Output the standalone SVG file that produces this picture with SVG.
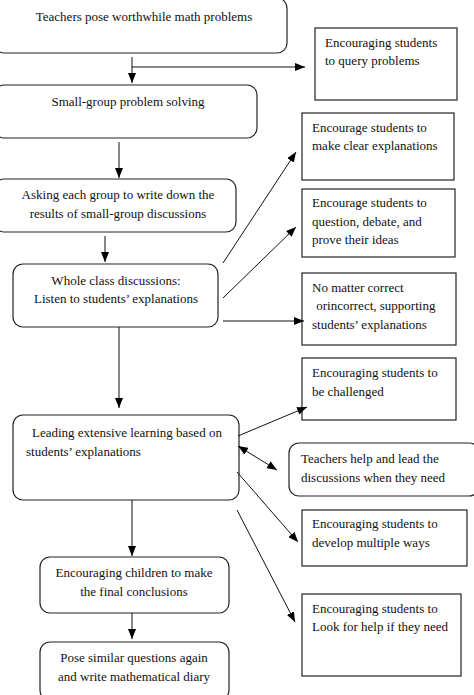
<svg xmlns="http://www.w3.org/2000/svg" width="474" height="695" viewBox="0 0 474 695">
<defs>
<marker id="ah" viewBox="0 0 10 8" refX="10" refY="4" markerWidth="10" markerHeight="8" markerUnits="userSpaceOnUse" orient="auto-start-reverse">
<path d="M0,0 L10,4 L0,8 Z" fill="#000"/>
</marker>
<style>
.box{fill:#fff;stroke:#222;stroke-width:1.2}
.t{font-family:"Liberation Serif","Times New Roman",serif;font-size:13px;fill:#111}
.c{text-anchor:middle}
.ln{stroke:#111;stroke-width:1;fill:none;marker-end:url(#ah)}
</style>
</defs>
<rect width="474" height="695" fill="#fff"/>
<g id="n1"><rect class="box" x="-6" y="-2" width="293" height="55" rx="10"/><text class="t c" x="144" y="21">Teachers pose worthwhile math problems</text></g>
<g id="n2"><rect class="box" x="315" y="28" width="142" height="72"/><text class="t" x="325" y="47">Encouraging students</text><text class="t" x="325" y="65">to query problems</text></g>
<g id="n3"><rect class="box" x="-6" y="85" width="263" height="53" rx="10"/><text class="t c" x="128" y="106">Small-group problem solving</text></g>
<g id="n4"><rect class="box" x="302" y="113" width="152" height="67"/><text class="t" x="312" y="132">Encourage students to</text><text class="t" x="312" y="150">make clear explanations</text></g>
<g id="n5"><rect class="box" x="-6" y="179" width="242" height="53" rx="10"/><text class="t c" x="118" y="199">Asking each group to write down the</text><text class="t c" x="118" y="218">results of small-group discussions</text></g>
<g id="n6"><rect class="box" x="302" y="189" width="153" height="68"/><text class="t" x="312" y="207">Encourage students to</text><text class="t" x="312" y="226">question, debate, and</text><text class="t" x="312" y="244">prove their ideas</text></g>
<g id="n7"><rect class="box" x="13" y="264" width="205" height="63" rx="10"/><text class="t c" x="116" y="285">Whole class discussions:</text><text class="t c" x="116" y="303">Listen to students’ explanations</text></g>
<g id="n8"><rect class="box" x="302" y="273" width="154" height="72"/><text class="t" x="312" y="292">No matter correct</text><text class="t" x="313" y="310" xml:space="preserve"> orincorrect, supporting</text><text class="t" x="312" y="329">students’ explanations</text></g>
<g id="n9"><rect class="box" x="302" y="358" width="154" height="62"/><text class="t" x="312" y="377">Encouraging students to</text><text class="t" x="312" y="396">be challenged</text></g>
<g id="n10"><rect class="box" x="13" y="415" width="226" height="85" rx="10"/><text class="t" x="32" y="437">Leading extensive learning based on</text><text class="t" x="26" y="456">students’ explanations</text></g>
<g id="n11"><rect class="box" x="289" y="443" width="190" height="53" rx="10"/><text class="t" x="301" y="463">Teachers help and lead the</text><text class="t" x="301" y="482">discussions when they need</text></g>
<g id="n12"><rect class="box" x="302" y="510" width="165" height="56"/><text class="t" x="312" y="528">Encouraging students to</text><text class="t" x="312" y="547">develop multiple ways</text></g>
<g id="n13"><rect class="box" x="40" y="557" width="189" height="56" rx="10"/><text class="t c" x="134" y="577">Encouraging children to make</text><text class="t c" x="134" y="596">the final conclusions</text></g>
<g id="n14"><rect class="box" x="302" y="594" width="159" height="82"/><text class="t" x="312" y="613">Encouraging students to</text><text class="t" x="312" y="631">Look for help if they need</text></g>
<g id="n15"><rect class="box" x="40" y="642" width="189" height="58" rx="10"/><text class="t c" x="134" y="662">Pose similar questions again</text><text class="t c" x="134" y="681">and write mathematical diary</text></g>
<g id="connectors">
<path class="ln" d="M132,57 V83"/>
<path class="ln" d="M132,67 H305"/>
<path class="ln" d="M119,142 V178"/>
<path class="ln" d="M105,236 V262"/>
<path class="ln" d="M223,263 L296,152"/>
<path class="ln" d="M223,298 L296,227"/>
<path class="ln" d="M223,321 H304"/>
<path class="ln" d="M119,327 V408"/>
<path class="ln" d="M238,436 L307,407"/>
<path class="ln" d="M238,446 L277,470" style="marker-start:url(#ah)"/>
<path class="ln" d="M237,472 L298,542"/>
<path class="ln" d="M237,510 L295,622"/>
<path class="ln" d="M132,500 V556"/>
<path class="ln" d="M132,613 V639"/>
</g>
</svg>
